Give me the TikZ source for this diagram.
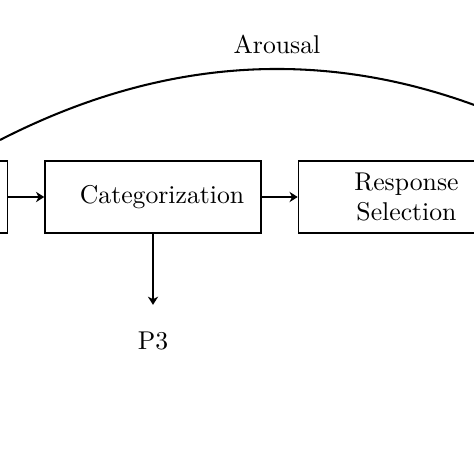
\documentclass[tikz,border=0pt]{standalone}
\usepackage{amsmath,amssymb}
\usepackage{tikz}
\usetikzlibrary{positioning,arrows.meta}

\begin{document}
\begin{tikzpicture}[x=0.389pt,y=-0.389pt,node distance=14pt,>={Stealth[length=3.2pt,width=4pt,inset=1pt]},
  stage/.style={draw,line width=0.6pt,minimum width=84pt,minimum height=28pt,align=center},
  flow/.style={->,line width=0.7pt}]
\clip (0,0) rectangle (474,474);
\node[stage] (cat) at (153,197) {\hspace*{7pt}Categorization};
\node[stage,left=of cat] (stim) {};
\node[stage,right=of cat] (resp) {Response\\Selection};
\node (p3) at (153,341) {P3};
\coordinate (arcA) at (0,140);
\coordinate (arcB) at (554,140);
\draw[flow] (stim) -- (cat);
\draw[flow] (cat) -- (resp);
\draw[flow,shorten >=7pt] (cat) -- (p3);
\draw[line width=0.8pt] (arcA) .. controls (184.7,45.3) and (369.3,45.3) .. (arcB)
  node[pos=0.5,above,yshift=2pt] (arousal) {Arousal};
\end{tikzpicture}
\end{document}
